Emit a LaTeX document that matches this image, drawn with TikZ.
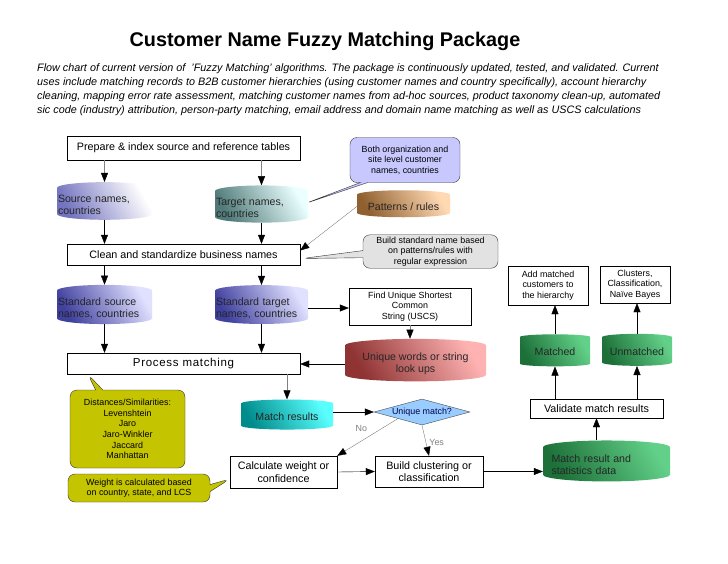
\documentclass[tikz,border=0pt]{standalone}
\usepackage{fontspec}
\setmainfont{Liberation Sans}
\usetikzlibrary{shapes.geometric,shapes.callouts,arrows.meta}
\definecolor{lavender}{HTML}{C8C8FF}
\definecolor{olive}{HTML}{C4C400}
\definecolor{notegray}{HTML}{E2E2E2}
\definecolor{diamondblue}{HTML}{99CCFF}
\definecolor{greendark}{HTML}{1C7038}
\definecolor{greenlight}{HTML}{62D088}
\definecolor{tealdark}{HTML}{4F7A78}
\begin{document}
\begin{tikzpicture}[x=1pt,y=-1pt,
    box/.style={draw,thin,fill=white,align=center,inner sep=1pt,font=\fontsize{10.75}{12.5}\selectfont},
    small/.style={font=\fontsize{8.9}{10.6}\selectfont},
    can/.style 2 args={cylinder,shape border rotate=90,aspect=0.12,draw=none,
        top color=#2,bottom color=#1,shading angle=-60,inner sep=1pt,
        text=black!85,font=\fontsize{10.6}{12}\selectfont},
    bubble/.style={rectangle callout,rounded corners=7pt,draw=black!80,thin,align=center,
        inner sep=2pt,font=\fontsize{8.9}{10.6}\selectfont},
    arr/.style={thin,-{Triangle[length=9pt,width=7pt]}},
    faint/.style={gray,thin,-{Triangle[length=9pt,width=7pt,color=black]}}
]
\useasboundingbox[fill=white] (0,0) rectangle (728,563);

% heading
\node[font=\bfseries\fontsize{19.8}{23}\selectfont] (title) at (325,41) {Customer Name Fuzzy Matching Package};
\node[anchor=north west,align=left,inner sep=0,font=\itshape\fontsize{10.8}{14}\selectfont] (intro) at (37,63)
    {Flow chart of current version of \ 'Fuzzy Matching' algorithms. The package is continuously updated, tested, and validated. Current\\
     uses include matching records to B2B customer hierarchies (using customer names and country specifically), account hierarchy\\
     cleaning, mapping error rate assessment, matching customer names from ad-hoc sources, product taxonomy clean-up, automated\\
     sic code (industry) attribution, person-party matching, email address and domain name matching as well as USCS calculations};

% left column
\node[box,minimum width=233,minimum height=24] (prep) at (183.5,148) {Prepare \& index source and reference tables};
\node[can={black!45!blue!55}{white},minimum width=95,minimum height=35,text width=93,align=left] (src) at (104.5,204.5) {Source names,\\countries};
\node[can={tealdark}{cyan!8},minimum width=93,minimum height=35,text width=91,align=left] (tgt) at (261.5,207.5) {Target names,\\countries};
\node[can={brown!75!black}{orange!30},minimum width=93,minimum height=27] (pat) at (403.5,206.5) {Patterns / rules};
\node[bubble,fill=lavender,minimum width=110,minimum height=45,callout absolute pointer={([xshift=-3pt,yshift=4pt]tgt.east)}] (orgs) at (405,160)
    {Both organization and\\site level customer\\names, countries};
\node[box,minimum width=233,minimum height=21] (clean) at (183.5,254.5) {Clean and standardize business names};
\node[bubble,fill=notegray,minimum width=135,minimum height=33,callout absolute pointer={([xshift=2pt,yshift=-4pt]clean.east)}] (rules) at (430.5,251.5)
    {Build standard name based\\on patterns/rules with\\regular expression};
\node[can={blue!50!black!75}{blue!12},minimum width=95,minimum height=36,text width=93,align=left] (stdsrc) at (104.5,308) {Standard source\\names, countries};
\node[can={blue!50!black!75}{blue!12},minimum width=93,minimum height=36,text width=91,align=left] (stdtgt) at (261.5,308) {Standard target\\names, countries};
\node[box,small,minimum width=122,minimum height=37] (uscs) at (410,306.5) {Find Unique Shortest\\Common\\String (USCS)};
\node[can={red!45!black!80}{red!30},minimum width=141,minimum height=42,align=center] (uniq) at (415.5,364) {Unique words or string\\look ups};
\node[box,minimum width=233,minimum height=21,font=\addfontfeatures{LetterSpace=6}\fontsize{11.5}{13}\selectfont] (proc) at (183.5,363.5) {Process matching};
\node[bubble,fill=olive,minimum width=115,minimum height=78,callout absolute pointer={([xshift=21pt]proc.south west)}] (dist) at (127.5,429)
    {Distances/Similarities:\\Levenshtein\\Jaro\\Jaro-Winkler\\Jaccard\\Manhattan};
\node[can={cyan!55!black}{cyan!65},minimum width=92,minimum height=30] (mres) at (287,417) {Match results};
\node[diamond,aspect=3.7,draw=gray!60!black,fill=diamondblue,inner sep=0,minimum width=96,minimum height=26,
    text=blue!30!black,font=\fontsize{8.9}{10}\selectfont] (uniqm) at (422,412) {Unique match?};
\node[box,minimum width=107,minimum height=32] (calc) at (283.5,472) {Calculate weight or\\confidence};
\node[box,minimum width=108,minimum height=31] (build) at (429,471.5) {Build clustering or\\classification};
\node[bubble,fill=olive,minimum width=142,minimum height=28,callout absolute pointer={([yshift=-7pt]calc.west)}] (weight) at (139,488)
    {Weight is calculated based\\on country, state, and LCS};

% right column
\node[can={greendark}{greenlight},minimum width=127,minimum height=30,text width=110,align=left] (stats) at (606.5,465) {Match result and\\statistics data};
\node[box,minimum width=133,minimum height=19] (valid) at (596.5,408.5) {Validate match results};
\node[can={greendark}{greenlight},minimum width=70,minimum height=32] (matched) at (555,352) {Matched};
\node[can={greendark}{greenlight},minimum width=70,minimum height=32] (unmatched) at (637,352) {Unmatched};
\node[box,small,minimum width=80,minimum height=39] (addm) at (548,285.5) {Add matched\\customers to\\the hierarchy};
\node[box,small,minimum width=70,minimum height=37] (clus) at (635,284.5) {Clusters,\\Classification,\\Naïve Bayes};

% connectors
\draw[faint] (prep.south -| src.north) -- (src.north);
\draw[faint] (prep.south -| tgt.north) -- (tgt.north);
\draw[arr] (src.south) -- (src.south |- clean.north);
\draw[arr] (tgt.south) -- (tgt.south |- clean.north);
\draw[faint] (pat.west) -- ([yshift=4pt]clean.east);
\draw[arr] (clean.south -| stdsrc.north) -- (stdsrc.north);
\draw[arr] (clean.south -| stdtgt.north) -- (stdtgt.north);
\draw[arr] (stdtgt.east) -- (stdtgt.east -| uscs.west);
\draw[faint] (uscs.south) -- (uscs.south |- uniq.north);
\draw[arr] (uniq.west) -- (uniq.west -| proc.east);
\draw[arr] (stdsrc.south) -- (stdsrc.south |- proc.north);
\draw[arr] (stdtgt.south) -- (stdtgt.south |- proc.north);
\draw[faint] (proc.south -| mres.north) -- (mres.north);
\draw[arr] (uniqm.west -| mres.east) -- (uniqm.west);
\draw[faint] (uniqm.south west) -- node[pos=.45,above left,font=\fontsize{8.9}{10}\selectfont] (no) {No} (calc.north east);
\draw[faint] (uniqm.south) -- node[pos=.55,right,font=\fontsize{8.9}{10}\selectfont] (yes) {Yes} (build.north);
\draw[arr] (calc.east) -- (build.west);
\draw[arr] (build.east) -- (build.east -| stats.west);
\draw[arr] (valid.south |- stats.north) -- (valid.south);
\draw[arr] (valid.north -| matched.south) -- (matched.south);
\draw[arr] (valid.north -| unmatched.south) -- (unmatched.south);
\draw[arr] (matched.north) -- (matched.north |- addm.south);
\draw[arr] (unmatched.north) -- (unmatched.north |- clus.south);
\end{tikzpicture}
\end{document}
